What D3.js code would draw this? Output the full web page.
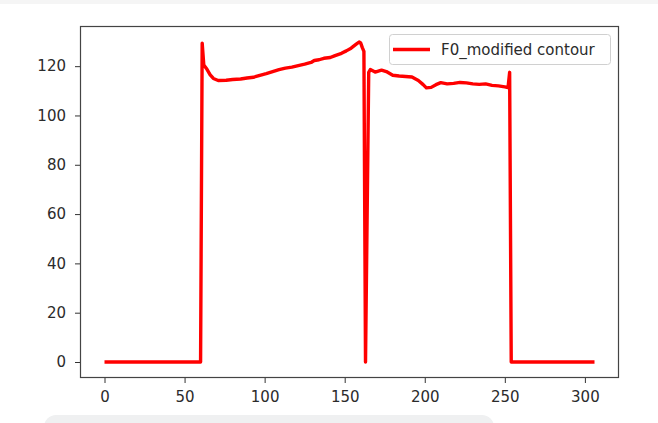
<!DOCTYPE html>
<html>
<head>
<meta charset="utf-8">
<script src="https://cdn.jsdelivr.net/npm/d3@7"></script>
<style>
    body { margin: 0; background: #fff; }
    svg { display: block; }
    .axis text { font-family: "DejaVu Sans", sans-serif; font-size: 15px; fill: #2b2b2b; }
    .axis path { display: none; }
    .axis line { stroke: #333; stroke-width: 1; }
    .legendText { font-family: "DejaVu Sans", sans-serif; font-size: 15px; fill: #2b2b2b; }
</style>
</head>
<body>
<script>
//frame index and F0 value (Hz)
var frames = [0, 60, 61, 62, 64, 66, 68, 71, 76, 80, 85, 89, 93, 97, 101, 105, 109, 113, 117, 121, 125, 129, 131, 134, 137, 141, 144, 148, 151, 154, 157, 159, 160, 161, 162,
    163, 165, 166, 169, 173, 176, 180, 184, 188, 192, 196, 199, 201, 204, 207, 210, 214, 218, 222, 226, 230, 234, 238, 242, 246, 250, 252, 253, 254, 306];
var f0Values = [0, 0, 129.3, 120.5, 118.7, 116.5, 115, 114.2, 114.3, 114.6, 114.8, 115.2, 115.5, 116.3, 117, 117.8, 118.6, 119.2, 119.6, 120.2, 120.8, 121.5, 122.3, 122.6, 123.2, 123.5, 124.3, 125.2, 126.2, 127.3, 128.8, 129.8, 129.4, 127.5, 126,
    0, 117.5, 118.6, 117.6, 118.4, 117.8, 116.3, 116, 115.8, 115.6, 114.2, 112.5, 111.2, 111.4, 112.5, 113.3, 112.8, 113, 113.4, 113.2, 112.8, 112.6, 112.8, 112.2, 112, 111.6, 111.3, 117.5, 0, 0];
var xTicks = [0, 50, 100, 150, 200, 250, 300];
var yTicks = [0, 20, 40, 60, 80, 100, 120];
var legendLabel = "F0_modified contour";

(function(){
    var width = 658, height = 423;
    //plot frame in pixels
    var left = 80, right = 619, top = 26, bottom = 378;

    var svg = d3.select("body")
        .append("svg")
        .attr("width", width)
        .attr("height", height);

    //page decoration around the figure
    svg.append("rect")
        .attr("x", 0).attr("y", 0)
        .attr("width", width).attr("height", 4)
        .style("fill", "#f5f5f5");
    svg.append("rect")
        .attr("x", 44).attr("y", 415)
        .attr("width", 450).attr("height", 30)
        .attr("rx", 12)
        .style("fill", "#eff0f1");

    //matplotlib style 5% margins
    var xMin = d3.min(frames), xMax = d3.max(frames);
    var yMin = d3.min(f0Values), yMax = d3.max(f0Values);
    var xPad = (xMax - xMin) * 0.05, yPad = (yMax - yMin) * 0.05;

    var x = d3.scaleLinear()
        .domain([xMin - xPad, xMax + xPad])
        .range([left, right]);
    var y = d3.scaleLinear()
        .domain([yMin - yPad, yMax + yPad])
        .range([bottom, top]);

    //axes
    svg.append("g")
        .attr("class", "axis")
        .attr("transform", "translate(0," + bottom + ")")
        .call(d3.axisBottom(x).tickValues(xTicks).tickSize(5).tickPadding(8));
    svg.append("g")
        .attr("class", "axis")
        .attr("transform", "translate(" + left + ",0)")
        .call(d3.axisLeft(y).tickValues(yTicks).tickSize(5).tickPadding(9));

    //the contour
    var points = frames.map(function(f, i){ return [f, f0Values[i]]; });
    var line = d3.line()
        .x(function(d){ return x(d[0]); })
        .y(function(d){ return y(d[1]); });
    svg.append("path")
        .datum(points)
        .attr("d", line)
        .style("fill", "none")
        .style("stroke", "#ff0000")
        .style("stroke-width", 3.4)
        .style("stroke-linejoin", "round");

    //frame border
    svg.append("rect")
        .attr("x", left + 0.5).attr("y", top + 0.5)
        .attr("width", right - left - 1).attr("height", bottom - top - 1)
        .style("fill", "none")
        .style("stroke", "#444")
        .style("stroke-width", 1.2);

    //legend
    var legend = svg.append("g").attr("class", "legend");
    legend.append("rect")
        .attr("x", 389.5).attr("y", 34.5)
        .attr("width", 221).attr("height", 30)
        .attr("rx", 3)
        .style("fill", "#fff")
        .style("fill-opacity", 0.8)
        .style("stroke", "#d0d0d0");
    legend.append("line")
        .attr("x1", 393).attr("x2", 430)
        .attr("y1", 49.5).attr("y2", 49.5)
        .style("stroke", "#ff0000")
        .style("stroke-width", 3.4);
    legend.append("text")
        .attr("class", "legendText")
        .attr("x", 441).attr("y", 55)
        .text(legendLabel);
})();
</script>
</body>
</html>
